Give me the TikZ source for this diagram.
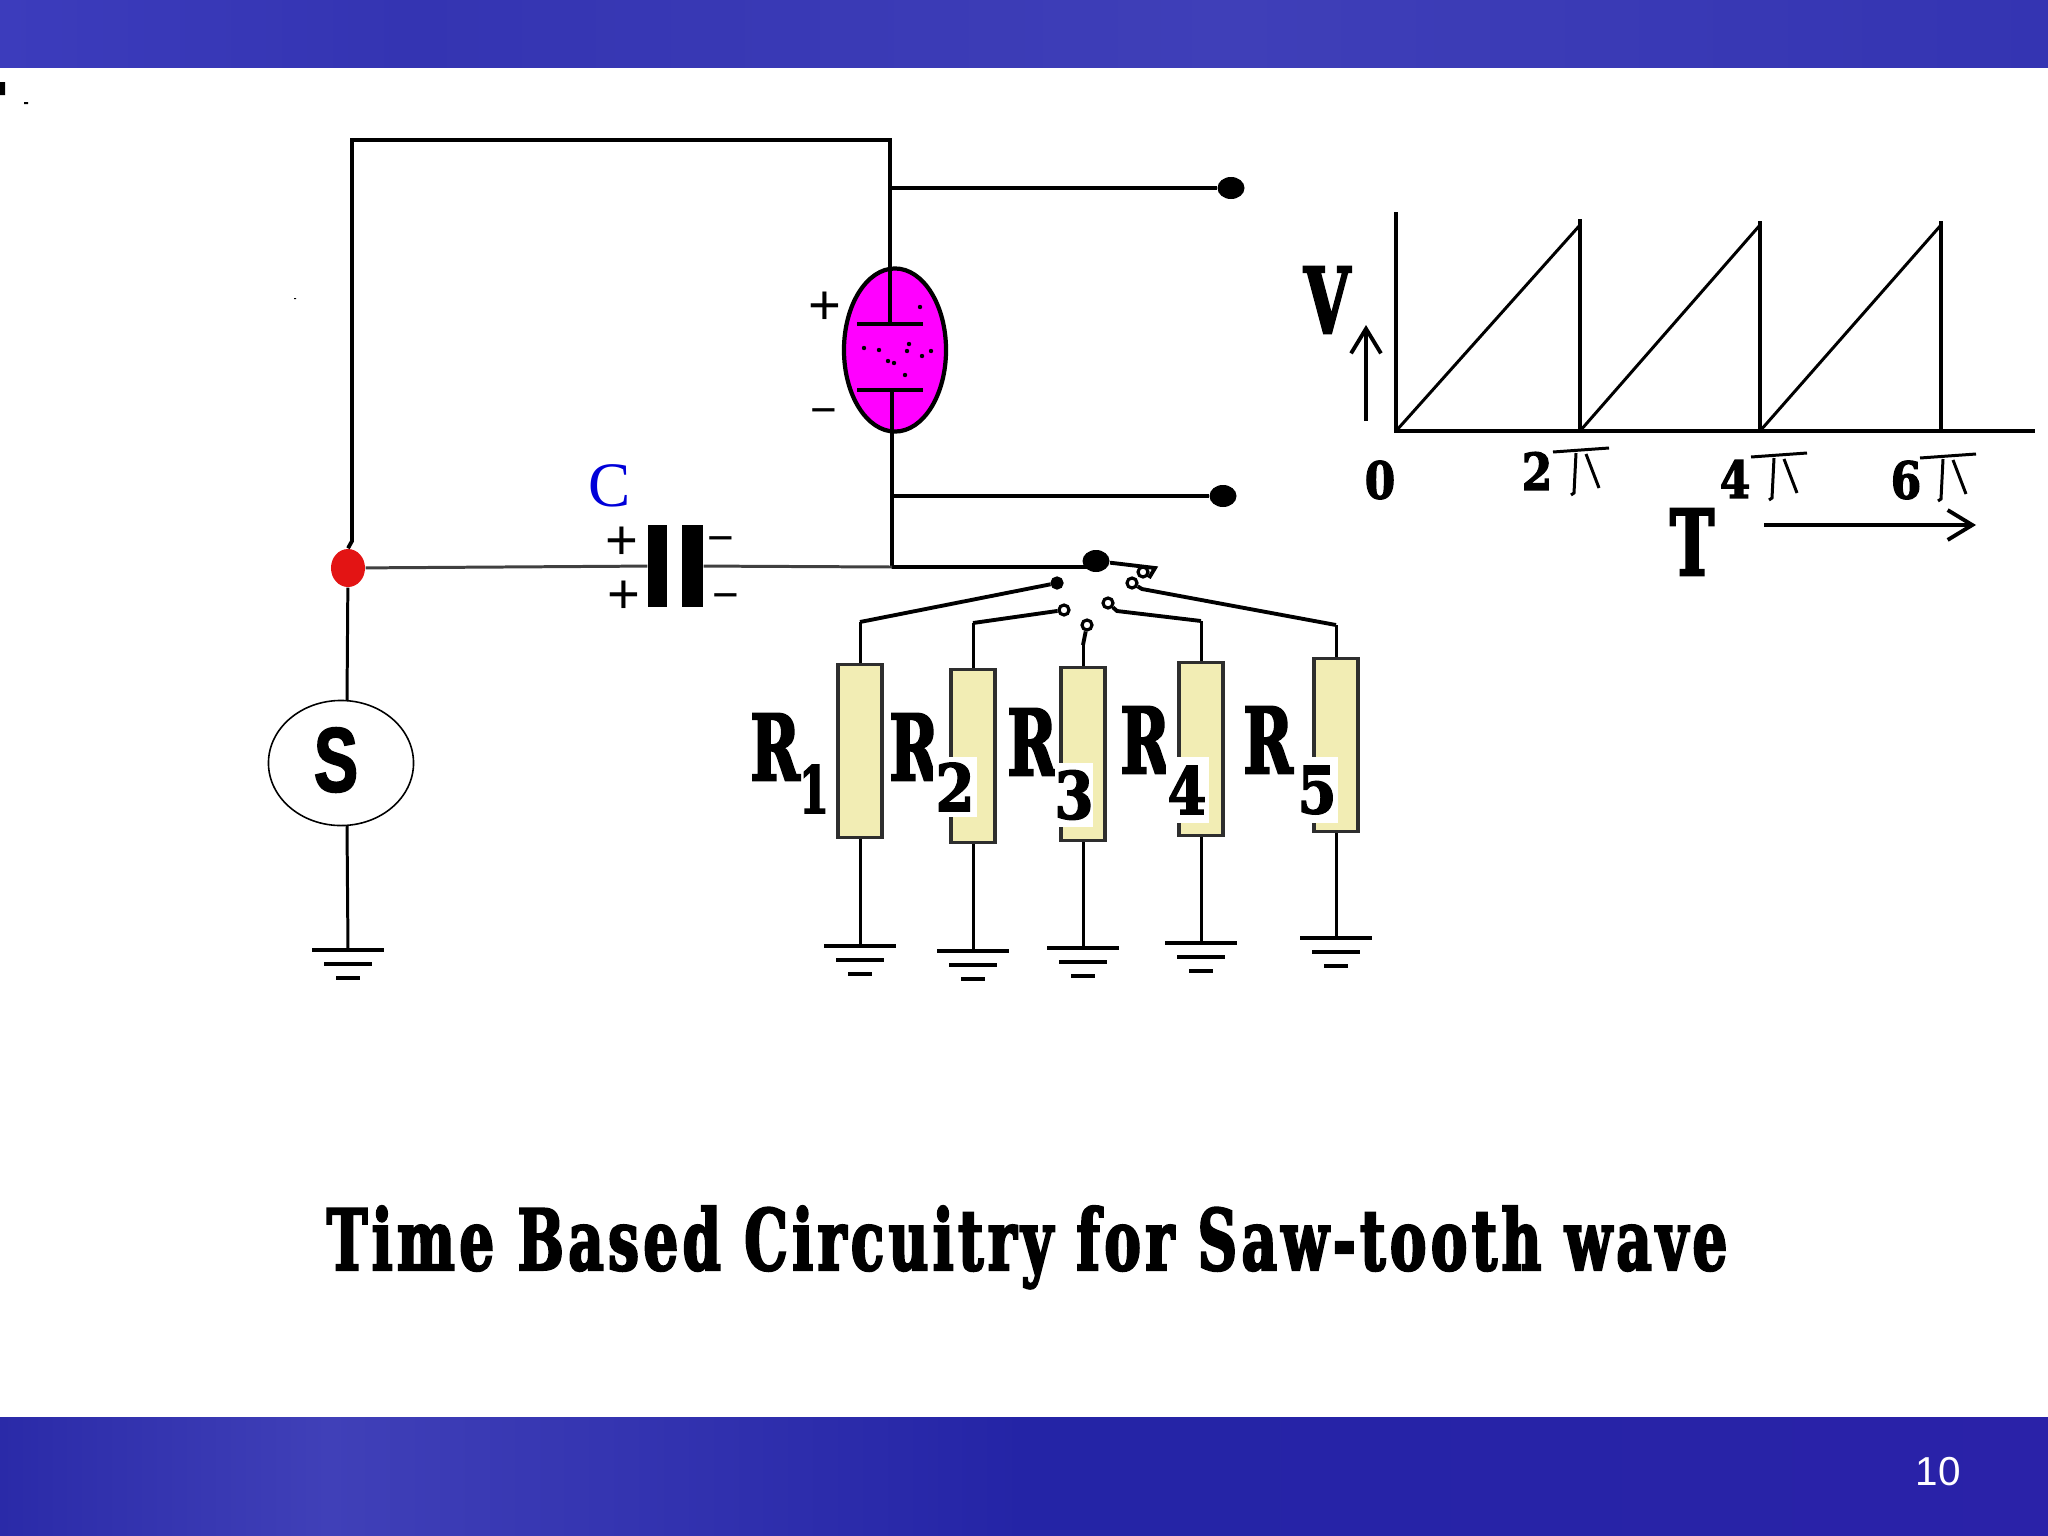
\documentclass[tikz,border=0pt]{standalone}
\usepackage{amsmath,amssymb}
\usepackage{xcolor}
\usepackage{fontspec}
\usepackage{tikz}
\usetikzlibrary{positioning}
\usetikzlibrary{arrows.meta,shapes}
\setmainfont{Liberation Sans}
\newfontfamily\slab[FakeBold=2.5,FakeStretch=0.72]{DejaVu Serif Condensed Bold}
\newfontfamily\slabwide[FakeBold=2.5,FakeStretch=0.95]{DejaVu Serif Condensed Bold}
\newfontfamily\slabcap[FakeBold=2.5,FakeStretch=0.72,LetterSpace=5.3]{DejaVu Serif Condensed Bold}
\newfontfamily\heavysans[FakeBold=2,FakeStretch=0.72]{Liberation Sans Bold}
\newfontfamily\romanfont{Liberation Serif}
\definecolor{bandA}{HTML}{3C3CBC}
\definecolor{bandB}{HTML}{3434B2}
\definecolor{bandC}{HTML}{3F3FB8}
\definecolor{bandD}{HTML}{2A2AA8}
\definecolor{bandE}{HTML}{4040B8}
\definecolor{bandF}{HTML}{2424A6}
\definecolor{bandG}{HTML}{2A22A8}
\definecolor{resfill}{HTML}{F2EDB4}
\definecolor{resline}{HTML}{2E2E2E}
\definecolor{tubefill}{HTML}{FF00FF}
\definecolor{dotred}{HTML}{E31414}
\pgfdeclarehorizontalshading{topband}{100bp}{color(0bp)=(bandA); color(25bp)=(bandA); color(35bp)=(bandB); color(55bp)=(bandC); color(75bp)=(bandB); color(100bp)=(bandB)}
\pgfdeclarehorizontalshading{botband}{100bp}{color(0bp)=(bandD); color(25bp)=(bandD); color(33bp)=(bandE); color(50bp)=(bandF); color(75bp)=(bandG); color(100bp)=(bandG)}
\newcommand{\gnd}[1]{\draw[wire] (#1) ++(-36,0) -- ++(72,0) ++(-60,14) -- ++(48,0) ++(-36,14) -- ++(24,0);}
\newcommand{\handpi}[1]{\draw[lead] (#1) -- ++(56,-4) (#1) ++(23,1) -- ++(-2,40) -- ++(-3,2) (#1) ++(33,2) -- ++(13,34);}

\begin{document}
\begin{tikzpicture}[x=0.01cm,y=-0.01cm,
    wire/.style={line width=1.1pt},
    lead/.style={line width=0.85pt},
    res/.style={rectangle,draw=resline,fill=resfill,line width=1.1pt,minimum width=0.44cm,minimum height=1.73cm,inner sep=0pt},
    blob/.style={ellipse,fill=black,minimum width=0.27cm,minimum height=0.22cm,inner sep=0pt},
    contact/.style={circle,draw,fill=white,line width=0.9pt,minimum size=0.1cm,inner sep=0pt},
    plus/.style={font=\fontsize{16}{16}\selectfont,inner sep=0pt},
    minus/.style={font=\fontsize{13}{13}\selectfont,inner sep=0pt},
    big/.style={font=\slab\fontsize{26}{26}\selectfont,inner sep=0pt},
    sub/.style={font=\slabwide\fontsize{18.5}{18.5}\selectfont,inner sep=0pt,fill=white},
    num/.style={font=\slabwide\fontsize{14.5}{14.5}\selectfont,inner sep=0pt},
    barb/.style={-{Straight Barb[length=7pt,width=8.5pt]}}]
  \useasboundingbox (0,0) rectangle (2048,1536);
  % bands
  \shade[shading=topband] (0,0) rectangle (2048,67);
  \shade[shading=botband] (0,1417) rectangle (2048,1536);
  \node[text=white,font=\fontsize{11.5}{11.5}\selectfont,inner sep=0pt] (page) at (1938,1472) {10};
  \fill (0,82) rectangle (5,95) (24,102) rectangle (28,104) (294,298) rectangle (296,299);

  % tube
  \node[ellipse,draw,fill=tubefill,line width=1.2pt,minimum width=1.02cm,minimum height=1.63cm,inner sep=0pt] (tube) at (895,350) {};
  \coordinate (pl1) at (857,324);
  \coordinate (pr1) at (923,324);
  \coordinate (pl2) at (857,390);
  \coordinate (pr2) at (923,390);
  \draw[wire,line width=1.3pt] (pl1) -- (pr1);
  \draw[wire,line width=1.3pt] (pl2) -- (pr2);
  \fill (920,307) circle (2.2) (864,348) circle (2.2) (879,350) circle (2.2) (909,344) circle (2.2)
        (907,351) circle (2.2) (931,351) circle (2.2) (922,356) circle (2.2) (888,361) circle (2.2)
        (894,363) circle (2.2) (905,375) circle (2.2);
  \node[plus] (tp) at (825,308) {+};
  \node[minus] (tm) at (824,417) {\textminus};

  % main wires
  \node[ellipse,fill=dotred,minimum width=0.34cm,minimum height=0.38cm,inner sep=0pt] (jn) at (348,568) {};
  \node[blob] (out1) at (1231,188) {};
  \node[blob] (out2) at (1223,496) {};
  \node[blob] (arm) at (1096,561) {};
  \coordinate (tl) at (352,140);
  \coordinate (tr) at (890,140);
  \coordinate (t1) at (890,188);
  \coordinate (t2) at (890,324);
  \coordinate (t3) at (892,390);
  \coordinate (t4) at (892,496);
  \coordinate (t5) at (892,567);
  \coordinate (w1) at (1096,567);
  \coordinate (kink) at (352,541);
  \draw[wire] (jn.north) -- (kink) -- (tl) -- (tr) -- (t2);
  \draw[wire] (t1) -- (out1);
  \draw[wire] (t3) -- (t5);
  \draw[wire] (t4) -- (out2);
  \draw[wire] (t5) -- (w1);

  % capacitor
  \node[rectangle,fill=black,minimum width=0.19cm,minimum height=0.81cm,inner sep=0pt] (c1) at (657.5,566) {};
  \node[rectangle,fill=black,minimum width=0.21cm,minimum height=0.81cm,inner sep=0pt] (c2) at (692.5,566) {};
  \draw[lead,black!75] (jn) -- (c1);
  \draw[lead,black!75] (c2) -- (t5);
  \node[text=blue!85!black,font=\romanfont\fontsize{18}{18}\selectfont,inner sep=0pt] (clabel) at (610,486) {C};
  \node[plus] (cp1) at (622,543) {+};
  \node[plus] (cp2) at (624,597) {+};
  \node[minus] (cm1) at (721,545) {\textminus};
  \node[minus] (cm2) at (726,602) {\textminus};

  % source
  \node[ellipse,draw,line width=0.45pt,minimum width=1.45cm,minimum height=1.25cm,inner sep=0pt] (src) at (341,763) {};
  \node[font=\heavysans\fontsize{26}{26}\selectfont,inner sep=0pt] (srclabel) at (336,760) {S};
  \coordinate (g0) at (348,950);
  \draw[lead] (jn) -- (347,701);
  \draw[lead] (347,825) -- (g0);
  \gnd{g0}

  % switch
  \node[contact,fill=black] (k1) at (1057,583) {};
  \node[contact] (k2) at (1064,610) {};
  \node[contact] (k3) at (1087,625) {};
  \node[contact] (k4) at (1108,603) {};
  \node[contact] (k5) at (1132,583) {};
  \node[contact] (k6) at (1143,572) {};
  \coordinate (a1) at (1155,568);
  \draw[wire] (arm) -- (a1) -- (1149,578);

  % resistors
  \node[res] (r1) at (860,751) {};
  \node[res] (r2) at (973,756) {};
  \node[res] (r3) at (1083,754) {};
  \node[res] (r4) at (1201,749) {};
  \node[res] (r5) at (1336,745) {};
  \coordinate (b1) at (860,622);
  \coordinate (b2) at (973,623);
  \coordinate (b3) at (1083,645);
  \coordinate (b4) at (1201,621);
  \coordinate (b5) at (1336,625);
  \coordinate (g1) at (860,946);
  \coordinate (g2) at (973,951);
  \coordinate (g3) at (1083,948);
  \coordinate (g4) at (1201,943);
  \coordinate (g5) at (1336,938);
  \draw[wire] (k1) -- (b1);
  \draw[wire] (k2) -- (b2);
  \draw[wire] (k3) -- (b3);
  \draw[wire] (k4) -- (1117,611) -- (b4);
  \draw[wire] (k5) -- (1142,589) -- (b5);
  \draw[lead] (b1) -- (r1.north);
  \draw[lead] (b2) -- (r2.north);
  \draw[lead] (b3) -- (r3.north);
  \draw[lead] (b4) -- (r4.north);
  \draw[lead] (b5) -- (r5.north);
  \draw[lead] (r1.south) -- (g1);
  \draw[lead] (r2.south) -- (g2);
  \draw[lead] (r3.south) -- (g3);
  \draw[lead] (r4.south) -- (g4);
  \draw[lead] (r5.south) -- (g5);
  \gnd{g1}
  \gnd{g2}
  \gnd{g3}
  \gnd{g4}
  \gnd{g5}

  % resistor labels
  \node[big] (l1) at (775,747) {R};
  \node[big] (l2) at (914,747) {R};
  \node[big] (l3) at (1032,742) {R};
  \node[big] (l4) at (1145,740) {R};
  \node[big] (l5) at (1268,740) {R};
  \node[sub,fill=none,font=\slab\fontsize{18.5}{18.5}\selectfont] (s1) at (814,789) {1};
  \node[sub,minimum width=0.44cm,minimum height=0.6cm] (s2) at (955,787) {2};
  \node[sub,minimum width=0.38cm,minimum height=0.63cm] (s3) at (1074,795) {3};
  \node[sub,minimum width=0.43cm,minimum height=0.65cm] (s4) at (1187,790) {4};
  \node[sub,minimum width=0.42cm,minimum height=0.65cm] (s5) at (1317,790) {5};

  % graph
  \coordinate (o) at (1396,431);
  \coordinate (top) at (1396,212);
  \coordinate (end) at (2035,431);
  \coordinate (p1) at (1580,431);
  \coordinate (p2) at (1760,431);
  \coordinate (p3) at (1941,431);
  \coordinate (q1) at (1580,219);
  \coordinate (q2) at (1760,221);
  \coordinate (q3) at (1941,221);
  \draw[wire] (top) -- (o) -- (end);
  \draw[wire] (p1) -- (q1);
  \draw[wire] (p2) -- (q2);
  \draw[wire] (p3) -- (q3);
  \draw[lead] (o) -- (1580,225);
  \draw[lead] (p1) -- (1760,225);
  \draw[lead] (p2) -- (1941,225);
  \node[big] (vlabel) at (1327,300) {V};
  \coordinate (va) at (1366,421);
  \coordinate (vb) at (1366,325);
  \draw[wire,barb] (va) -- (vb);
  \node[big] (tlabel) at (1692,542) {T};
  \coordinate (ta) at (1764,525);
  \coordinate (tb) at (1976,525);
  \draw[wire,barb] (ta) -- (tb);
  \node[num] (n0) at (1380,480) {0};
  \node[num] (n2) at (1537,471) {2};
  \node[num] (n4) at (1735,479) {4};
  \node[num] (n6) at (1906,480) {6};
  \handpi{1553,452}
  \handpi{1751,457}
  \handpi{1920,458}

  % caption
  \node[anchor=base west,font=\slabcap\fontsize{24}{24}\selectfont,inner sep=0pt] (caption) at (326,1270) {Time Based Circuitry for Saw-tooth wave};
\end{tikzpicture}
\end{document}
